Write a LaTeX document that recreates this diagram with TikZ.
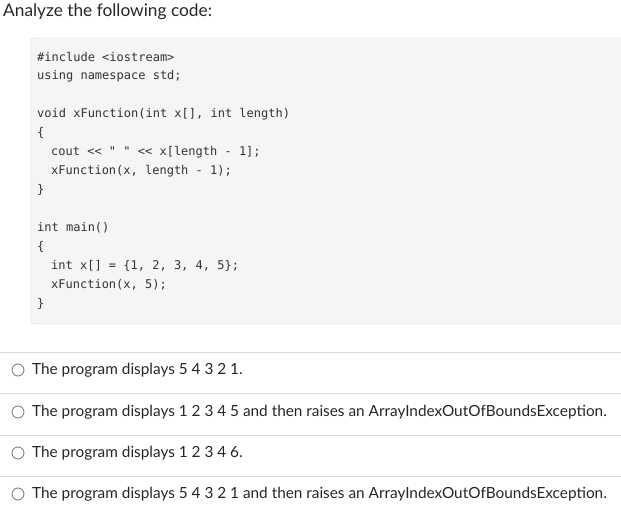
\documentclass[tikz,border=0pt]{standalone}
\usepackage{fontspec}
\setmainfont{Lato}
\setmonofont{DejaVu Sans Mono}
\begin{document}
\begin{tikzpicture}[x=1pt,y=-1pt,
  code/.style={anchor=west,inner sep=0pt,font=\fontsize{12}{14}\ttfamily,text=black!80},
  opt/.style={anchor=west,inner sep=0pt,font=\fontsize{15.35}{18}\selectfont,text=black!85},
  radio/.style={circle,draw=black!55,line width=0.8pt,minimum size=12pt,inner sep=0pt},
  sep/.style={draw=black!15,line width=0.8pt}]
\useasboundingbox (0,0) rectangle (621,510);
\node[anchor=west,inner sep=0pt,font=\fontsize{17.3}{20}\selectfont,text=black!85] (title) at (3,12) {Analyze the following code:};
\draw[fill=black!4,draw=black!18,rounded corners=3pt] (31,38) rectangle (625,324);
\node[code] (l1) at (37,57) {\#include <iostream>};
\node[code] (l2) at (37,76) {using namespace std;};
\node[code] (l3) at (37,114) {void xFunction(int x[], int length)};
\node[code] (l4) at (37,133) {\{};
\node[code] (l5) at (51,152) {cout << " " << x[length - 1];};
\node[code] (l6) at (51,171) {xFunction(x, length - 1);};
\node[code] (l7) at (37,190) {\}};
\node[code] (l8) at (37,228) {int main()};
\node[code] (l9) at (37,247) {\{};
\node[code] (l10) at (51,266) {int x[] = \{1, 2, 3, 4, 5\};};
\node[code] (l11) at (51,285) {xFunction(x, 5);};
\node[code] (l12) at (37,304) {\}};
\foreach \y in {352,393,435,476} \draw[sep] (0,\y) -- (621,\y);
\node[radio] (r1) at (18,370) {};
\node[opt] (o1) at (32,370) {The program displays 5 4 3 2 1.};
\node[radio] (r2) at (18,412) {};
\node[opt] (o2) at (32,412) {The program displays 1 2 3 4 5 and then raises an ArrayIndexOutOfBoundsException.};
\node[radio] (r3) at (18,453) {};
\node[opt] (o3) at (32,453) {The program displays 1 2 3 4 6.};
\node[radio] (r4) at (18,494) {};
\node[opt] (o4) at (32,494) {The program displays 5 4 3 2 1 and then raises an ArrayIndexOutOfBoundsException.};
\end{tikzpicture}
\end{document}
